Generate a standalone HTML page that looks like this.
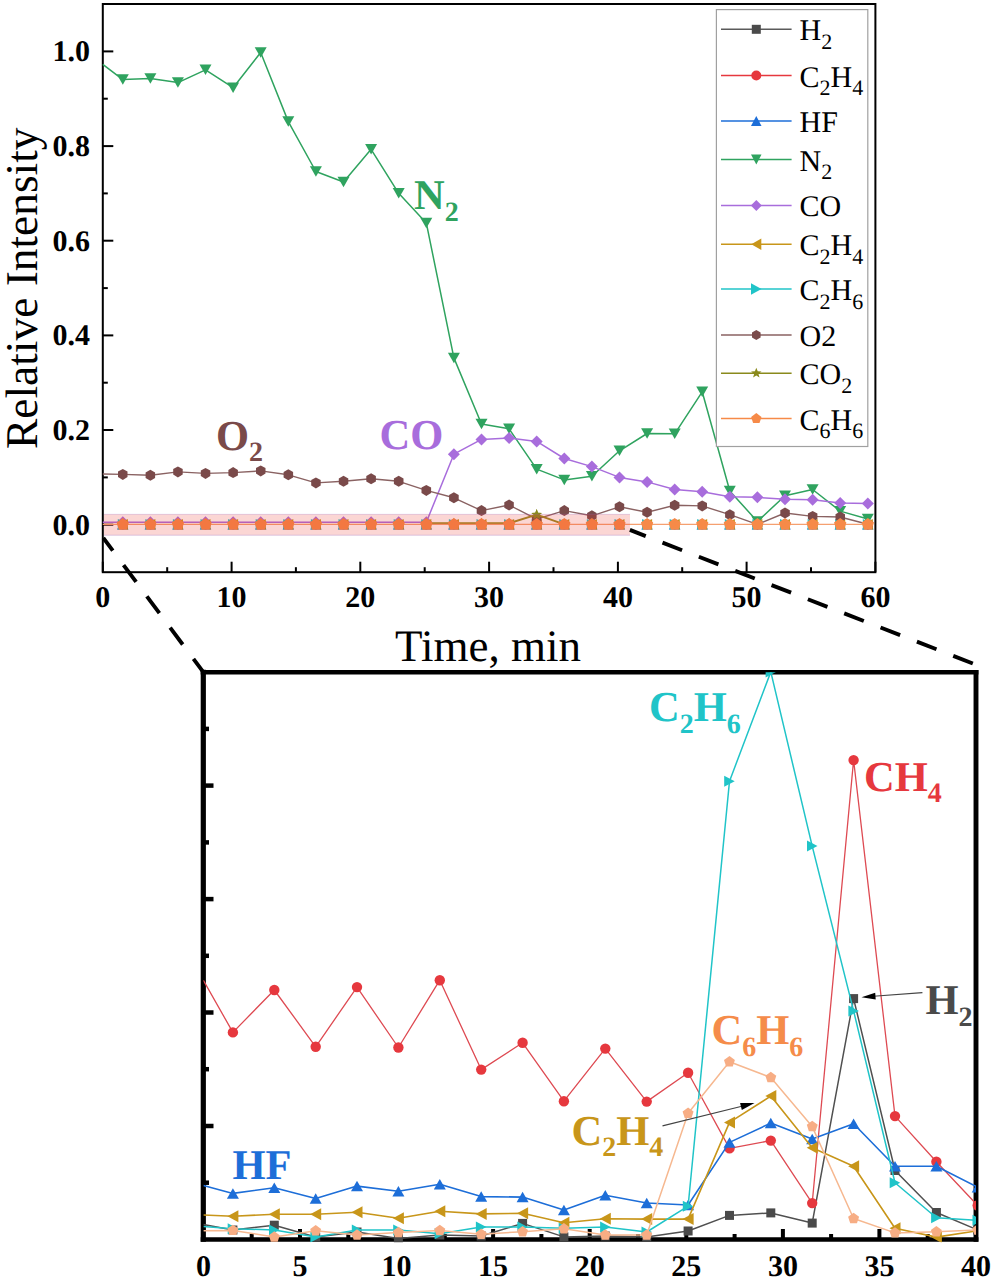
<!DOCTYPE html>
<html><head><meta charset="utf-8"><style>
html,body{margin:0;padding:0;background:#fff;}
body{width:998px;height:1282px;position:relative;overflow:hidden;font-family:"Liberation Serif",serif;}
</style></head><body>
<svg width="998" height="1282" viewBox="0 0 998 1282" style="position:absolute;left:0;top:0" text-rendering="geometricPrecision">
<rect width="998" height="1282" fill="#ffffff"/>
<rect x="102.8" y="4" width="772.6" height="568.2" fill="none" stroke="#000" stroke-width="2"/>
<line x1="102.8" y1="524.7" x2="113.3" y2="524.7" stroke="#000" stroke-width="2"/>
<line x1="102.8" y1="477.4" x2="107.8" y2="477.4" stroke="#000" stroke-width="2"/>
<line x1="102.8" y1="430" x2="113.3" y2="430" stroke="#000" stroke-width="2"/>
<line x1="102.8" y1="382.7" x2="107.8" y2="382.7" stroke="#000" stroke-width="2"/>
<line x1="102.8" y1="335.4" x2="113.3" y2="335.4" stroke="#000" stroke-width="2"/>
<line x1="102.8" y1="288.1" x2="107.8" y2="288.1" stroke="#000" stroke-width="2"/>
<line x1="102.8" y1="240.7" x2="113.3" y2="240.7" stroke="#000" stroke-width="2"/>
<line x1="102.8" y1="193.4" x2="107.8" y2="193.4" stroke="#000" stroke-width="2"/>
<line x1="102.8" y1="146.1" x2="113.3" y2="146.1" stroke="#000" stroke-width="2"/>
<line x1="102.8" y1="98.7" x2="107.8" y2="98.7" stroke="#000" stroke-width="2"/>
<line x1="102.8" y1="51.4" x2="113.3" y2="51.4" stroke="#000" stroke-width="2"/>
<line x1="102.8" y1="572.2" x2="102.8" y2="561.7" stroke="#000" stroke-width="2"/>
<line x1="167.2" y1="572.2" x2="167.2" y2="567.2" stroke="#000" stroke-width="2"/>
<line x1="231.6" y1="572.2" x2="231.6" y2="561.7" stroke="#000" stroke-width="2"/>
<line x1="295.9" y1="572.2" x2="295.9" y2="567.2" stroke="#000" stroke-width="2"/>
<line x1="360.3" y1="572.2" x2="360.3" y2="561.7" stroke="#000" stroke-width="2"/>
<line x1="424.7" y1="572.2" x2="424.7" y2="567.2" stroke="#000" stroke-width="2"/>
<line x1="489.1" y1="572.2" x2="489.1" y2="561.7" stroke="#000" stroke-width="2"/>
<line x1="553.5" y1="572.2" x2="553.5" y2="567.2" stroke="#000" stroke-width="2"/>
<line x1="617.9" y1="572.2" x2="617.9" y2="561.7" stroke="#000" stroke-width="2"/>
<line x1="682.2" y1="572.2" x2="682.2" y2="567.2" stroke="#000" stroke-width="2"/>
<line x1="746.6" y1="572.2" x2="746.6" y2="561.7" stroke="#000" stroke-width="2"/>
<line x1="811" y1="572.2" x2="811" y2="567.2" stroke="#000" stroke-width="2"/>
<line x1="875.4" y1="572.2" x2="875.4" y2="561.7" stroke="#000" stroke-width="2"/>
<g font-family="Liberation Serif" font-weight="bold" font-size="30" text-anchor="end" fill="#000">
<text x="90" y="534.5">0.0</text>
<text x="90" y="439.8">0.2</text>
<text x="90" y="345.2">0.4</text>
<text x="90" y="250.5">0.6</text>
<text x="90" y="155.9">0.8</text>
<text x="90" y="61.2">1.0</text>
</g>
<g font-family="Liberation Serif" font-weight="bold" font-size="30" text-anchor="middle" fill="#000">
<text x="102.8" y="607">0</text>
<text x="231.6" y="607">10</text>
<text x="360.3" y="607">20</text>
<text x="489.1" y="607">30</text>
<text x="617.9" y="607">40</text>
<text x="746.6" y="607">50</text>
<text x="875.4" y="607">60</text>
</g>
<text x="37.5" y="288.2" transform="rotate(-90 37.5 288.2)" font-family="Liberation Serif" font-size="45.4" text-anchor="middle" fill="#000">Relative Intensity</text>
<text x="488" y="661" font-family="Liberation Serif" font-size="45" text-anchor="middle" fill="#000">Time, min</text>
<rect x="118.3" y="519.9" width="9" height="9" fill="#4a4a4a"/>
<rect x="145.9" y="519.9" width="9" height="9" fill="#4a4a4a"/>
<rect x="173.4" y="519.9" width="9" height="9" fill="#4a4a4a"/>
<rect x="201" y="519.9" width="9" height="9" fill="#4a4a4a"/>
<rect x="228.6" y="519.9" width="9" height="9" fill="#4a4a4a"/>
<rect x="256.2" y="519.9" width="9" height="9" fill="#4a4a4a"/>
<rect x="283.8" y="519.9" width="9" height="9" fill="#4a4a4a"/>
<rect x="311.4" y="519.9" width="9" height="9" fill="#4a4a4a"/>
<rect x="339" y="519.9" width="9" height="9" fill="#4a4a4a"/>
<rect x="366.6" y="519.9" width="9" height="9" fill="#4a4a4a"/>
<rect x="394.2" y="519.9" width="9" height="9" fill="#4a4a4a"/>
<rect x="421.8" y="519.9" width="9" height="9" fill="#4a4a4a"/>
<rect x="449.4" y="519.9" width="9" height="9" fill="#4a4a4a"/>
<rect x="477" y="519.9" width="9" height="9" fill="#4a4a4a"/>
<rect x="504.6" y="519.9" width="9" height="9" fill="#4a4a4a"/>
<rect x="532.2" y="519.9" width="9" height="9" fill="#4a4a4a"/>
<rect x="559.8" y="519.9" width="9" height="9" fill="#4a4a4a"/>
<rect x="587.4" y="519.9" width="9" height="9" fill="#4a4a4a"/>
<rect x="615" y="519.9" width="9" height="9" fill="#4a4a4a"/>
<rect x="642.6" y="519.9" width="9" height="9" fill="#4a4a4a"/>
<rect x="670.2" y="519.9" width="9" height="9" fill="#4a4a4a"/>
<rect x="697.7" y="519.9" width="9" height="9" fill="#4a4a4a"/>
<rect x="725.3" y="519.9" width="9" height="9" fill="#4a4a4a"/>
<rect x="752.9" y="519.9" width="9" height="9" fill="#4a4a4a"/>
<rect x="780.5" y="519.9" width="9" height="9" fill="#4a4a4a"/>
<rect x="808.1" y="519.9" width="9" height="9" fill="#4a4a4a"/>
<rect x="835.7" y="519.9" width="9" height="9" fill="#4a4a4a"/>
<rect x="863.3" y="519.9" width="9" height="9" fill="#4a4a4a"/>
<circle cx="122.8" cy="524.4" r="5" fill="#e6383e"/>
<circle cx="150.4" cy="524.4" r="5" fill="#e6383e"/>
<circle cx="177.9" cy="524.4" r="5" fill="#e6383e"/>
<circle cx="205.5" cy="524.4" r="5" fill="#e6383e"/>
<circle cx="233.1" cy="524.4" r="5" fill="#e6383e"/>
<circle cx="260.7" cy="524.4" r="5" fill="#e6383e"/>
<circle cx="288.3" cy="524.4" r="5" fill="#e6383e"/>
<circle cx="315.9" cy="524.4" r="5" fill="#e6383e"/>
<circle cx="343.5" cy="524.4" r="5" fill="#e6383e"/>
<circle cx="371.1" cy="524.4" r="5" fill="#e6383e"/>
<circle cx="398.7" cy="524.4" r="5" fill="#e6383e"/>
<circle cx="426.3" cy="524.4" r="5" fill="#e6383e"/>
<circle cx="453.9" cy="524.4" r="5" fill="#e6383e"/>
<circle cx="481.5" cy="524.4" r="5" fill="#e6383e"/>
<circle cx="509.1" cy="524.4" r="5" fill="#e6383e"/>
<circle cx="536.7" cy="524.4" r="5" fill="#e6383e"/>
<circle cx="564.3" cy="524.4" r="5" fill="#e6383e"/>
<circle cx="591.9" cy="524.4" r="5" fill="#e6383e"/>
<circle cx="619.5" cy="524.4" r="5" fill="#e6383e"/>
<circle cx="647.1" cy="524.4" r="5" fill="#e6383e"/>
<circle cx="674.7" cy="524.4" r="5" fill="#e6383e"/>
<circle cx="702.2" cy="524.4" r="5" fill="#e6383e"/>
<circle cx="729.8" cy="524.4" r="5" fill="#e6383e"/>
<circle cx="757.4" cy="524.4" r="5" fill="#e6383e"/>
<circle cx="785" cy="524.4" r="5" fill="#e6383e"/>
<circle cx="812.6" cy="524.4" r="5" fill="#e6383e"/>
<circle cx="840.2" cy="524.4" r="5" fill="#e6383e"/>
<circle cx="867.8" cy="524.4" r="5" fill="#e6383e"/>
<polygon points="122.8,519.4 128.5,529.4 117,529.4" fill="#1d6ed8"/>
<polygon points="150.4,519.4 156.1,529.4 144.6,529.4" fill="#1d6ed8"/>
<polygon points="177.9,519.4 183.7,529.4 172.2,529.4" fill="#1d6ed8"/>
<polygon points="205.5,519.4 211.3,529.4 199.8,529.4" fill="#1d6ed8"/>
<polygon points="233.1,519.4 238.9,529.4 227.4,529.4" fill="#1d6ed8"/>
<polygon points="260.7,519.4 266.5,529.4 255,529.4" fill="#1d6ed8"/>
<polygon points="288.3,519.4 294.1,529.4 282.6,529.4" fill="#1d6ed8"/>
<polygon points="315.9,519.4 321.7,529.4 310.2,529.4" fill="#1d6ed8"/>
<polygon points="343.5,519.4 349.3,529.4 337.8,529.4" fill="#1d6ed8"/>
<polygon points="371.1,519.4 376.9,529.4 365.4,529.4" fill="#1d6ed8"/>
<polygon points="398.7,519.4 404.5,529.4 393,529.4" fill="#1d6ed8"/>
<polygon points="426.3,519.4 432.1,529.4 420.6,529.4" fill="#1d6ed8"/>
<polygon points="453.9,519.4 459.6,529.4 448.1,529.4" fill="#1d6ed8"/>
<polygon points="481.5,519.4 487.2,529.4 475.7,529.4" fill="#1d6ed8"/>
<polygon points="509.1,519.4 514.8,529.4 503.3,529.4" fill="#1d6ed8"/>
<polygon points="536.7,519.4 542.4,529.4 530.9,529.4" fill="#1d6ed8"/>
<polygon points="564.3,519.4 570,529.4 558.5,529.4" fill="#1d6ed8"/>
<polygon points="591.9,519.4 597.6,529.4 586.1,529.4" fill="#1d6ed8"/>
<polygon points="619.5,519.4 625.2,529.4 613.7,529.4" fill="#1d6ed8"/>
<polygon points="647.1,519.4 652.8,529.4 641.3,529.4" fill="#1d6ed8"/>
<polygon points="674.7,519.4 680.4,529.4 668.9,529.4" fill="#1d6ed8"/>
<polygon points="702.2,519.4 708,529.4 696.5,529.4" fill="#1d6ed8"/>
<polygon points="729.8,519.4 735.6,529.4 724.1,529.4" fill="#1d6ed8"/>
<polygon points="757.4,519.4 763.2,529.4 751.7,529.4" fill="#1d6ed8"/>
<polygon points="785,519.4 790.8,529.4 779.3,529.4" fill="#1d6ed8"/>
<polygon points="812.6,519.4 818.4,529.4 806.9,529.4" fill="#1d6ed8"/>
<polygon points="840.2,519.4 846,529.4 834.5,529.4" fill="#1d6ed8"/>
<polygon points="867.8,519.4 873.6,529.4 862.1,529.4" fill="#1d6ed8"/>
<polyline points="102.8,64.3 122.8,79.6 150.4,78.6 177.9,82.6 205.5,69.9 233.1,87.7 260.7,52.5 288.3,121.6 315.9,171.5 343.5,182 371.1,149.3 398.7,193.3 426.3,222.9 453.9,357.9 481.5,424 509.1,428.8 536.7,469.1 564.3,479.9 591.9,476.3 619.5,450.8 647.1,433.5 674.7,433.8 702.2,391.8 729.8,491 757.4,521.5 785,495.7 812.6,489.5 840.2,511.1 867.8,519" fill="none" stroke="#2fa35f" stroke-width="1.5" stroke-linejoin="round"/>
<polygon points="122.8,84.8 128.8,74.3 116.8,74.3" fill="#2fa35f"/>
<polygon points="150.4,83.8 156.4,73.3 144.4,73.3" fill="#2fa35f"/>
<polygon points="177.9,87.8 183.9,77.3 171.9,77.3" fill="#2fa35f"/>
<polygon points="205.5,75.1 211.5,64.6 199.5,64.6" fill="#2fa35f"/>
<polygon points="233.1,93 239.1,82.5 227.1,82.5" fill="#2fa35f"/>
<polygon points="260.7,57.8 266.7,47.2 254.7,47.2" fill="#2fa35f"/>
<polygon points="288.3,126.8 294.3,116.3 282.3,116.3" fill="#2fa35f"/>
<polygon points="315.9,176.8 321.9,166.2 309.9,166.2" fill="#2fa35f"/>
<polygon points="343.5,187.2 349.5,176.8 337.5,176.8" fill="#2fa35f"/>
<polygon points="371.1,154.6 377.1,144.1 365.1,144.1" fill="#2fa35f"/>
<polygon points="398.7,198.6 404.7,188.1 392.7,188.1" fill="#2fa35f"/>
<polygon points="426.3,228.2 432.3,217.7 420.3,217.7" fill="#2fa35f"/>
<polygon points="453.9,363.2 459.9,352.7 447.9,352.7" fill="#2fa35f"/>
<polygon points="481.5,429.2 487.5,418.8 475.5,418.8" fill="#2fa35f"/>
<polygon points="509.1,434.1 515.1,423.6 503.1,423.6" fill="#2fa35f"/>
<polygon points="536.7,474.4 542.7,463.9 530.7,463.9" fill="#2fa35f"/>
<polygon points="564.3,485.2 570.3,474.7 558.3,474.7" fill="#2fa35f"/>
<polygon points="591.9,481.6 597.9,471.1 585.9,471.1" fill="#2fa35f"/>
<polygon points="619.5,456.1 625.5,445.6 613.5,445.6" fill="#2fa35f"/>
<polygon points="647.1,438.8 653.1,428.2 641.1,428.2" fill="#2fa35f"/>
<polygon points="674.7,439.1 680.7,428.6 668.7,428.6" fill="#2fa35f"/>
<polygon points="702.2,397.1 708.2,386.6 696.2,386.6" fill="#2fa35f"/>
<polygon points="729.8,496.2 735.8,485.8 723.8,485.8" fill="#2fa35f"/>
<polygon points="757.4,526.8 763.4,516.2 751.4,516.2" fill="#2fa35f"/>
<polygon points="785,500.9 791,490.4 779,490.4" fill="#2fa35f"/>
<polygon points="812.6,494.8 818.6,484.2 806.6,484.2" fill="#2fa35f"/>
<polygon points="840.2,516.4 846.2,505.9 834.2,505.9" fill="#2fa35f"/>
<polygon points="867.8,524.2 873.8,513.8 861.8,513.8" fill="#2fa35f"/>
<polyline points="102.8,522.3 122.8,522.3 150.4,522.3 177.9,522.3 205.5,522.3 233.1,522.3 260.7,522.3 288.3,522.3 315.9,522.3 343.5,522.3 371.1,522.3 398.7,522.3 426.3,522.3 453.9,454.2 481.5,439.4 509.1,438 536.7,441.4 564.3,458.5 591.9,466.6 619.5,477.4 647.1,481.9 674.7,489.5 702.2,491.7 729.8,496.7 757.4,497.3 785,499.3 812.6,499.8 840.2,503.1 867.8,503.4" fill="none" stroke="#a86ddc" stroke-width="1.5" stroke-linejoin="round"/>
<polygon points="122.8,516.3 128.8,522.3 122.8,528.3 116.8,522.3" fill="#a86ddc"/>
<polygon points="150.4,516.3 156.4,522.3 150.4,528.3 144.4,522.3" fill="#a86ddc"/>
<polygon points="177.9,516.3 183.9,522.3 177.9,528.3 171.9,522.3" fill="#a86ddc"/>
<polygon points="205.5,516.3 211.5,522.3 205.5,528.3 199.5,522.3" fill="#a86ddc"/>
<polygon points="233.1,516.3 239.1,522.3 233.1,528.3 227.1,522.3" fill="#a86ddc"/>
<polygon points="260.7,516.3 266.7,522.3 260.7,528.3 254.7,522.3" fill="#a86ddc"/>
<polygon points="288.3,516.3 294.3,522.3 288.3,528.3 282.3,522.3" fill="#a86ddc"/>
<polygon points="315.9,516.3 321.9,522.3 315.9,528.3 309.9,522.3" fill="#a86ddc"/>
<polygon points="343.5,516.3 349.5,522.3 343.5,528.3 337.5,522.3" fill="#a86ddc"/>
<polygon points="371.1,516.3 377.1,522.3 371.1,528.3 365.1,522.3" fill="#a86ddc"/>
<polygon points="398.7,516.3 404.7,522.3 398.7,528.3 392.7,522.3" fill="#a86ddc"/>
<polygon points="426.3,516.3 432.3,522.3 426.3,528.3 420.3,522.3" fill="#a86ddc"/>
<polygon points="453.9,448.2 459.9,454.2 453.9,460.2 447.9,454.2" fill="#a86ddc"/>
<polygon points="481.5,433.4 487.5,439.4 481.5,445.4 475.5,439.4" fill="#a86ddc"/>
<polygon points="509.1,432 515.1,438 509.1,444 503.1,438" fill="#a86ddc"/>
<polygon points="536.7,435.4 542.7,441.4 536.7,447.4 530.7,441.4" fill="#a86ddc"/>
<polygon points="564.3,452.5 570.3,458.5 564.3,464.5 558.3,458.5" fill="#a86ddc"/>
<polygon points="591.9,460.6 597.9,466.6 591.9,472.6 585.9,466.6" fill="#a86ddc"/>
<polygon points="619.5,471.4 625.5,477.4 619.5,483.4 613.5,477.4" fill="#a86ddc"/>
<polygon points="647.1,475.9 653.1,481.9 647.1,487.9 641.1,481.9" fill="#a86ddc"/>
<polygon points="674.7,483.5 680.7,489.5 674.7,495.5 668.7,489.5" fill="#a86ddc"/>
<polygon points="702.2,485.7 708.2,491.7 702.2,497.7 696.2,491.7" fill="#a86ddc"/>
<polygon points="729.8,490.7 735.8,496.7 729.8,502.7 723.8,496.7" fill="#a86ddc"/>
<polygon points="757.4,491.3 763.4,497.3 757.4,503.3 751.4,497.3" fill="#a86ddc"/>
<polygon points="785,493.3 791,499.3 785,505.3 779,499.3" fill="#a86ddc"/>
<polygon points="812.6,493.8 818.6,499.8 812.6,505.8 806.6,499.8" fill="#a86ddc"/>
<polygon points="840.2,497.1 846.2,503.1 840.2,509.1 834.2,503.1" fill="#a86ddc"/>
<polygon points="867.8,497.4 873.8,503.4 867.8,509.4 861.8,503.4" fill="#a86ddc"/>
<polygon points="117.8,524.4 127.8,518.9 127.8,529.9" fill="#c8961a"/>
<polygon points="145.4,524.4 155.4,518.9 155.4,529.9" fill="#c8961a"/>
<polygon points="172.9,524.4 182.9,518.9 182.9,529.9" fill="#c8961a"/>
<polygon points="200.5,524.4 210.5,518.9 210.5,529.9" fill="#c8961a"/>
<polygon points="228.1,524.4 238.1,518.9 238.1,529.9" fill="#c8961a"/>
<polygon points="255.7,524.4 265.7,518.9 265.7,529.9" fill="#c8961a"/>
<polygon points="283.3,524.4 293.3,518.9 293.3,529.9" fill="#c8961a"/>
<polygon points="310.9,524.4 320.9,518.9 320.9,529.9" fill="#c8961a"/>
<polygon points="338.5,524.4 348.5,518.9 348.5,529.9" fill="#c8961a"/>
<polygon points="366.1,524.4 376.1,518.9 376.1,529.9" fill="#c8961a"/>
<polygon points="393.7,524.4 403.7,518.9 403.7,529.9" fill="#c8961a"/>
<polygon points="421.3,524.4 431.3,518.9 431.3,529.9" fill="#c8961a"/>
<polygon points="448.9,524.4 458.9,518.9 458.9,529.9" fill="#c8961a"/>
<polygon points="476.5,524.4 486.5,518.9 486.5,529.9" fill="#c8961a"/>
<polygon points="504.1,524.4 514.1,518.9 514.1,529.9" fill="#c8961a"/>
<polygon points="531.7,524.4 541.7,518.9 541.7,529.9" fill="#c8961a"/>
<polygon points="559.3,524.4 569.3,518.9 569.3,529.9" fill="#c8961a"/>
<polygon points="586.9,524.4 596.9,518.9 596.9,529.9" fill="#c8961a"/>
<polygon points="614.5,524.4 624.5,518.9 624.5,529.9" fill="#c8961a"/>
<polygon points="642.1,524.4 652.1,518.9 652.1,529.9" fill="#c8961a"/>
<polygon points="669.7,524.4 679.7,518.9 679.7,529.9" fill="#c8961a"/>
<polygon points="697.2,524.4 707.2,518.9 707.2,529.9" fill="#c8961a"/>
<polygon points="724.8,524.4 734.8,518.9 734.8,529.9" fill="#c8961a"/>
<polygon points="752.4,524.4 762.4,518.9 762.4,529.9" fill="#c8961a"/>
<polygon points="780,524.4 790,518.9 790,529.9" fill="#c8961a"/>
<polygon points="807.6,524.4 817.6,518.9 817.6,529.9" fill="#c8961a"/>
<polygon points="835.2,524.4 845.2,518.9 845.2,529.9" fill="#c8961a"/>
<polygon points="862.8,524.4 872.8,518.9 872.8,529.9" fill="#c8961a"/>
<polygon points="127.8,524.4 117.8,518.9 117.8,529.9" fill="#20c4c8"/>
<polygon points="155.4,524.4 145.4,518.9 145.4,529.9" fill="#20c4c8"/>
<polygon points="182.9,524.4 172.9,518.9 172.9,529.9" fill="#20c4c8"/>
<polygon points="210.5,524.4 200.5,518.9 200.5,529.9" fill="#20c4c8"/>
<polygon points="238.1,524.4 228.1,518.9 228.1,529.9" fill="#20c4c8"/>
<polygon points="265.7,524.4 255.7,518.9 255.7,529.9" fill="#20c4c8"/>
<polygon points="293.3,524.4 283.3,518.9 283.3,529.9" fill="#20c4c8"/>
<polygon points="320.9,524.4 310.9,518.9 310.9,529.9" fill="#20c4c8"/>
<polygon points="348.5,524.4 338.5,518.9 338.5,529.9" fill="#20c4c8"/>
<polygon points="376.1,524.4 366.1,518.9 366.1,529.9" fill="#20c4c8"/>
<polygon points="403.7,524.4 393.7,518.9 393.7,529.9" fill="#20c4c8"/>
<polygon points="431.3,524.4 421.3,518.9 421.3,529.9" fill="#20c4c8"/>
<polygon points="458.9,524.4 448.9,518.9 448.9,529.9" fill="#20c4c8"/>
<polygon points="486.5,524.4 476.5,518.9 476.5,529.9" fill="#20c4c8"/>
<polygon points="514.1,524.4 504.1,518.9 504.1,529.9" fill="#20c4c8"/>
<polygon points="541.7,524.4 531.7,518.9 531.7,529.9" fill="#20c4c8"/>
<polygon points="569.3,524.4 559.3,518.9 559.3,529.9" fill="#20c4c8"/>
<polygon points="596.9,524.4 586.9,518.9 586.9,529.9" fill="#20c4c8"/>
<polygon points="624.5,524.4 614.5,518.9 614.5,529.9" fill="#20c4c8"/>
<polygon points="652.1,524.4 642.1,518.9 642.1,529.9" fill="#20c4c8"/>
<polygon points="679.7,524.4 669.7,518.9 669.7,529.9" fill="#20c4c8"/>
<polygon points="707.2,524.4 697.2,518.9 697.2,529.9" fill="#20c4c8"/>
<polygon points="734.8,524.4 724.8,518.9 724.8,529.9" fill="#20c4c8"/>
<polygon points="762.4,524.4 752.4,518.9 752.4,529.9" fill="#20c4c8"/>
<polygon points="790,524.4 780,518.9 780,529.9" fill="#20c4c8"/>
<polygon points="817.6,524.4 807.6,518.9 807.6,529.9" fill="#20c4c8"/>
<polygon points="845.2,524.4 835.2,518.9 835.2,529.9" fill="#20c4c8"/>
<polygon points="872.8,524.4 862.8,518.9 862.8,529.9" fill="#20c4c8"/>
<polyline points="102.8,474 122.8,474.4 150.4,475.2 177.9,471.9 205.5,473.4 233.1,472.6 260.7,470.9 288.3,474.8 315.9,482.9 343.5,481.3 371.1,478.7 398.7,481.3 426.3,490.4 453.9,497.8 481.5,510.6 509.1,505 536.7,519.2 564.3,510.6 591.9,515.8 619.5,506.8 647.1,512.3 674.7,505.3 702.2,505.9 729.8,514.7 757.4,524.3 785,513 812.6,516.4 840.2,517 867.8,524.2" fill="none" stroke="#8a6262" stroke-width="1.4" stroke-linejoin="round"/>
<polygon points="122.8,468.9 118,471.6 118,477.1 122.8,479.9 127.5,477.1 127.5,471.6" fill="#7a4a4a"/>
<polygon points="150.4,469.7 145.6,472.4 145.6,477.9 150.4,480.7 155.1,477.9 155.1,472.4" fill="#7a4a4a"/>
<polygon points="177.9,466.4 173.2,469.1 173.2,474.6 177.9,477.4 182.7,474.6 182.7,469.1" fill="#7a4a4a"/>
<polygon points="205.5,467.9 200.8,470.6 200.8,476.1 205.5,478.9 210.3,476.1 210.3,470.6" fill="#7a4a4a"/>
<polygon points="233.1,467.1 228.4,469.9 228.4,475.4 233.1,478.1 237.9,475.4 237.9,469.9" fill="#7a4a4a"/>
<polygon points="260.7,465.4 256,468.1 256,473.6 260.7,476.4 265.5,473.6 265.5,468.1" fill="#7a4a4a"/>
<polygon points="288.3,469.3 283.6,472.1 283.6,477.6 288.3,480.3 293.1,477.6 293.1,472.1" fill="#7a4a4a"/>
<polygon points="315.9,477.4 311.2,480.1 311.2,485.6 315.9,488.4 320.7,485.6 320.7,480.1" fill="#7a4a4a"/>
<polygon points="343.5,475.8 338.8,478.6 338.8,484.1 343.5,486.8 348.3,484.1 348.3,478.6" fill="#7a4a4a"/>
<polygon points="371.1,473.2 366.3,475.9 366.3,481.4 371.1,484.2 375.9,481.4 375.9,475.9" fill="#7a4a4a"/>
<polygon points="398.7,475.8 393.9,478.6 393.9,484.1 398.7,486.8 403.5,484.1 403.5,478.6" fill="#7a4a4a"/>
<polygon points="426.3,484.9 421.5,487.6 421.5,493.1 426.3,495.9 431.1,493.1 431.1,487.6" fill="#7a4a4a"/>
<polygon points="453.9,492.3 449.1,495.1 449.1,500.6 453.9,503.3 458.7,500.6 458.7,495.1" fill="#7a4a4a"/>
<polygon points="481.5,505.1 476.7,507.9 476.7,513.4 481.5,516.1 486.3,513.4 486.3,507.9" fill="#7a4a4a"/>
<polygon points="509.1,499.5 504.3,502.2 504.3,507.8 509.1,510.5 513.8,507.8 513.8,502.2" fill="#7a4a4a"/>
<polygon points="536.7,513.7 531.9,516.5 531.9,522 536.7,524.7 541.4,522 541.4,516.5" fill="#7a4a4a"/>
<polygon points="564.3,505.1 559.5,507.9 559.5,513.4 564.3,516.1 569,513.4 569,507.9" fill="#7a4a4a"/>
<polygon points="591.9,510.3 587.1,513 587.1,518.5 591.9,521.3 596.6,518.5 596.6,513" fill="#7a4a4a"/>
<polygon points="619.5,501.3 614.7,504.1 614.7,509.6 619.5,512.3 624.2,509.6 624.2,504.1" fill="#7a4a4a"/>
<polygon points="647.1,506.8 642.3,509.5 642.3,515 647.1,517.8 651.8,515 651.8,509.5" fill="#7a4a4a"/>
<polygon points="674.7,499.8 669.9,502.6 669.9,508.1 674.7,510.8 679.4,508.1 679.4,502.6" fill="#7a4a4a"/>
<polygon points="702.2,500.4 697.5,503.1 697.5,508.6 702.2,511.4 707,508.6 707,503.1" fill="#7a4a4a"/>
<polygon points="729.8,509.2 725.1,512 725.1,517.5 729.8,520.2 734.6,517.5 734.6,512" fill="#7a4a4a"/>
<polygon points="757.4,518.8 752.7,521.5 752.7,527 757.4,529.8 762.2,527 762.2,521.5" fill="#7a4a4a"/>
<polygon points="785,507.5 780.3,510.2 780.3,515.8 785,518.5 789.8,515.8 789.8,510.2" fill="#7a4a4a"/>
<polygon points="812.6,510.9 807.9,513.6 807.9,519.1 812.6,521.9 817.4,519.1 817.4,513.6" fill="#7a4a4a"/>
<polygon points="840.2,511.5 835.5,514.2 835.5,519.8 840.2,522.5 845,519.8 845,514.2" fill="#7a4a4a"/>
<polygon points="867.8,518.7 863.1,521.5 863.1,527 867.8,529.7 872.6,527 872.6,521.5" fill="#7a4a4a"/>
<polygon points="122.8,518.9 121.4,522.5 117.5,522.7 120.6,525.1 119.5,528.8 122.8,526.7 126,528.8 125,525.1 128,522.7 124.1,522.5" fill="#8a8a1c"/>
<polygon points="150.4,518.9 149,522.5 145.1,522.7 148.2,525.1 147.1,528.8 150.4,526.7 153.6,528.8 152.6,525.1 155.6,522.7 151.7,522.5" fill="#8a8a1c"/>
<polygon points="177.9,518.9 176.6,522.5 172.7,522.7 175.8,525.1 174.7,528.8 177.9,526.7 181.2,528.8 180.1,525.1 183.2,522.7 179.3,522.5" fill="#8a8a1c"/>
<polygon points="205.5,518.9 204.2,522.5 200.3,522.7 203.3,525.1 202.3,528.8 205.5,526.7 208.8,528.8 207.7,525.1 210.8,522.7 206.9,522.5" fill="#8a8a1c"/>
<polygon points="233.1,518.9 231.8,522.5 227.9,522.7 230.9,525.1 229.9,528.8 233.1,526.7 236.4,528.8 235.3,525.1 238.4,522.7 234.5,522.5" fill="#8a8a1c"/>
<polygon points="260.7,518.9 259.4,522.5 255.5,522.7 258.5,525.1 257.5,528.8 260.7,526.7 264,528.8 262.9,525.1 266,522.7 262.1,522.5" fill="#8a8a1c"/>
<polygon points="288.3,518.9 287,522.5 283.1,522.7 286.1,525.1 285.1,528.8 288.3,526.7 291.6,528.8 290.5,525.1 293.6,522.7 289.7,522.5" fill="#8a8a1c"/>
<polygon points="315.9,518.9 314.6,522.5 310.7,522.7 313.7,525.1 312.7,528.8 315.9,526.7 319.2,528.8 318.1,525.1 321.2,522.7 317.3,522.5" fill="#8a8a1c"/>
<polygon points="343.5,518.9 342.2,522.5 338.3,522.7 341.3,525.1 340.3,528.8 343.5,526.7 346.7,528.8 345.7,525.1 348.7,522.7 344.9,522.5" fill="#8a8a1c"/>
<polygon points="371.1,518.9 369.8,522.5 365.9,522.7 368.9,525.1 367.9,528.8 371.1,526.7 374.3,528.8 373.3,525.1 376.3,522.7 372.5,522.5" fill="#8a8a1c"/>
<polygon points="398.7,518.9 397.3,522.5 393.5,522.7 396.5,525.1 395.5,528.8 398.7,526.7 401.9,528.8 400.9,525.1 403.9,522.7 400.1,522.5" fill="#8a8a1c"/>
<polygon points="426.3,518.9 424.9,522.5 421.1,522.7 424.1,525.1 423.1,528.8 426.3,526.7 429.5,528.8 428.5,525.1 431.5,522.7 427.7,522.5" fill="#8a8a1c"/>
<polygon points="453.9,518.9 452.5,522.5 448.7,522.7 451.7,525.1 450.7,528.8 453.9,526.7 457.1,528.8 456.1,525.1 459.1,522.7 455.3,522.5" fill="#8a8a1c"/>
<polygon points="481.5,518.9 480.1,522.5 476.3,522.7 479.3,525.1 478.3,528.8 481.5,526.7 484.7,528.8 483.7,525.1 486.7,522.7 482.8,522.5" fill="#8a8a1c"/>
<polygon points="509.1,518.9 507.7,522.5 503.9,522.7 506.9,525.1 505.9,528.8 509.1,526.7 512.3,528.8 511.3,525.1 514.3,522.7 510.4,522.5" fill="#8a8a1c"/>
<polygon points="536.7,509.1 535.3,512.7 531.4,512.9 534.5,515.3 533.4,519 536.7,516.9 539.9,519 538.9,515.3 541.9,512.9 538,512.7" fill="#8a8a1c"/>
<polygon points="564.3,518.9 562.9,522.5 559,522.7 562.1,525.1 561,528.8 564.3,526.7 567.5,528.8 566.5,525.1 569.5,522.7 565.6,522.5" fill="#8a8a1c"/>
<polygon points="591.9,518.9 590.5,522.5 586.6,522.7 589.7,525.1 588.6,528.8 591.9,526.7 595.1,528.8 594.1,525.1 597.1,522.7 593.2,522.5" fill="#8a8a1c"/>
<polygon points="619.5,518.9 618.1,522.5 614.2,522.7 617.3,525.1 616.2,528.8 619.5,526.7 622.7,528.8 621.7,525.1 624.7,522.7 620.8,522.5" fill="#8a8a1c"/>
<polygon points="647.1,518.9 645.7,522.5 641.8,522.7 644.9,525.1 643.8,528.8 647.1,526.7 650.3,528.8 649.3,525.1 652.3,522.7 648.4,522.5" fill="#8a8a1c"/>
<polygon points="674.7,518.9 673.3,522.5 669.4,522.7 672.5,525.1 671.4,528.8 674.7,526.7 677.9,528.8 676.8,525.1 679.9,522.7 676,522.5" fill="#8a8a1c"/>
<polygon points="702.2,518.9 700.9,522.5 697,522.7 700.1,525.1 699,528.8 702.2,526.7 705.5,528.8 704.4,525.1 707.5,522.7 703.6,522.5" fill="#8a8a1c"/>
<polygon points="729.8,518.9 728.5,522.5 724.6,522.7 727.6,525.1 726.6,528.8 729.8,526.7 733.1,528.8 732,525.1 735.1,522.7 731.2,522.5" fill="#8a8a1c"/>
<polygon points="757.4,518.9 756.1,522.5 752.2,522.7 755.2,525.1 754.2,528.8 757.4,526.7 760.7,528.8 759.6,525.1 762.7,522.7 758.8,522.5" fill="#8a8a1c"/>
<polygon points="785,518.9 783.7,522.5 779.8,522.7 782.8,525.1 781.8,528.8 785,526.7 788.3,528.8 787.2,525.1 790.3,522.7 786.4,522.5" fill="#8a8a1c"/>
<polygon points="812.6,518.9 811.3,522.5 807.4,522.7 810.4,525.1 809.4,528.8 812.6,526.7 815.9,528.8 814.8,525.1 817.9,522.7 814,522.5" fill="#8a8a1c"/>
<polygon points="840.2,518.9 838.9,522.5 835,522.7 838,525.1 837,528.8 840.2,526.7 843.5,528.8 842.4,525.1 845.5,522.7 841.6,522.5" fill="#8a8a1c"/>
<polygon points="867.8,518.9 866.5,522.5 862.6,522.7 865.6,525.1 864.6,528.8 867.8,526.7 871,528.8 870,525.1 873,522.7 869.2,522.5" fill="#8a8a1c"/>
<polyline points="426.3,523.2 453.9,523.2 481.5,523.2 509.1,523.2 536.7,514.6 564.3,524.4" fill="none" stroke="#9a8a20" stroke-width="2" stroke-linejoin="round"/>
<polygon points="426.3,517.7 424.9,521.3 421.1,521.5 424.1,523.9 423.1,527.6 426.3,525.5 429.5,527.6 428.5,523.9 431.5,521.5 427.7,521.3" fill="#8a8a1c"/>
<polygon points="453.9,517.7 452.5,521.3 448.7,521.5 451.7,523.9 450.7,527.6 453.9,525.5 457.1,527.6 456.1,523.9 459.1,521.5 455.3,521.3" fill="#8a8a1c"/>
<polygon points="481.5,517.7 480.1,521.3 476.3,521.5 479.3,523.9 478.3,527.6 481.5,525.5 484.7,527.6 483.7,523.9 486.7,521.5 482.8,521.3" fill="#8a8a1c"/>
<polygon points="509.1,517.7 507.7,521.3 503.9,521.5 506.9,523.9 505.9,527.6 509.1,525.5 512.3,527.6 511.3,523.9 514.3,521.5 510.4,521.3" fill="#8a8a1c"/>
<polygon points="536.7,509.1 535.3,512.7 531.4,512.9 534.5,515.3 533.4,519 536.7,516.9 539.9,519 538.9,515.3 541.9,512.9 538,512.7" fill="#8a8a1c"/>
<polygon points="564.3,518.9 562.9,522.5 559,522.7 562.1,525.1 561,528.8 564.3,526.7 567.5,528.8 566.5,525.1 569.5,522.7 565.6,522.5" fill="#8a8a1c"/>
<polyline points="102.8,524.4 122.8,524.4 150.4,524.4 177.9,524.4 205.5,524.4 233.1,524.4 260.7,524.4 288.3,524.4 315.9,524.4 343.5,524.4 371.1,524.4 398.7,524.4 426.3,524.4 453.9,524.4 481.5,524.4 509.1,524.4 536.7,524.4 564.3,524.4 591.9,524.4 619.5,524.4 647.1,524.4 674.7,524.4 702.2,524.4 729.8,524.4 757.4,524.4 785,524.4 812.6,524.4 840.2,524.4 867.8,524.4" fill="none" stroke="#f5a070" stroke-width="1.4" stroke-linejoin="round"/>
<polygon points="122.8,517.9 116.6,522.4 118.9,529.7 126.6,529.7 128.9,522.4" fill="#f68a48"/>
<polygon points="150.4,517.9 144.2,522.4 146.5,529.7 154.2,529.7 156.5,522.4" fill="#f68a48"/>
<polygon points="177.9,517.9 171.8,522.4 174.1,529.7 181.8,529.7 184.1,522.4" fill="#f68a48"/>
<polygon points="205.5,517.9 199.4,522.4 201.7,529.7 209.4,529.7 211.7,522.4" fill="#f68a48"/>
<polygon points="233.1,517.9 227,522.4 229.3,529.7 237,529.7 239.3,522.4" fill="#f68a48"/>
<polygon points="260.7,517.9 254.6,522.4 256.9,529.7 264.6,529.7 266.9,522.4" fill="#f68a48"/>
<polygon points="288.3,517.9 282.1,522.4 284.5,529.7 292.1,529.7 294.5,522.4" fill="#f68a48"/>
<polygon points="315.9,517.9 309.7,522.4 312.1,529.7 319.7,529.7 322.1,522.4" fill="#f68a48"/>
<polygon points="343.5,517.9 337.3,522.4 339.7,529.7 347.3,529.7 349.7,522.4" fill="#f68a48"/>
<polygon points="371.1,517.9 364.9,522.4 367.3,529.7 374.9,529.7 377.3,522.4" fill="#f68a48"/>
<polygon points="398.7,517.9 392.5,522.4 394.9,529.7 402.5,529.7 404.9,522.4" fill="#f68a48"/>
<polygon points="426.3,517.9 420.1,522.4 422.5,529.7 430.1,529.7 432.5,522.4" fill="#f68a48"/>
<polygon points="453.9,517.9 447.7,522.4 450.1,529.7 457.7,529.7 460.1,522.4" fill="#f68a48"/>
<polygon points="481.5,517.9 475.3,522.4 477.7,529.7 485.3,529.7 487.7,522.4" fill="#f68a48"/>
<polygon points="509.1,517.9 502.9,522.4 505.3,529.7 512.9,529.7 515.3,522.4" fill="#f68a48"/>
<polygon points="536.7,517.9 530.5,522.4 532.9,529.7 540.5,529.7 542.9,522.4" fill="#f68a48"/>
<polygon points="564.3,517.9 558.1,522.4 560.5,529.7 568.1,529.7 570.5,522.4" fill="#f68a48"/>
<polygon points="591.9,517.9 585.7,522.4 588,529.7 595.7,529.7 598.1,522.4" fill="#f68a48"/>
<polygon points="619.5,517.9 613.3,522.4 615.6,529.7 623.3,529.7 625.6,522.4" fill="#f68a48"/>
<polygon points="647.1,517.9 640.9,522.4 643.2,529.7 650.9,529.7 653.2,522.4" fill="#f68a48"/>
<polygon points="674.7,517.9 668.5,522.4 670.8,529.7 678.5,529.7 680.8,522.4" fill="#f68a48"/>
<polygon points="702.2,517.9 696.1,522.4 698.4,529.7 706.1,529.7 708.4,522.4" fill="#f68a48"/>
<polygon points="729.8,517.9 723.7,522.4 726,529.7 733.7,529.7 736,522.4" fill="#f68a48"/>
<polygon points="757.4,517.9 751.3,522.4 753.6,529.7 761.3,529.7 763.6,522.4" fill="#f68a48"/>
<polygon points="785,517.9 778.8,522.4 781.2,529.7 788.9,529.7 791.2,522.4" fill="#f68a48"/>
<polygon points="812.6,517.9 806.4,522.4 808.8,529.7 816.4,529.7 818.8,522.4" fill="#f68a48"/>
<polygon points="840.2,517.9 834,522.4 836.4,529.7 844,529.7 846.4,522.4" fill="#f68a48"/>
<polygon points="867.8,517.9 861.6,522.4 864,529.7 871.6,529.7 874,522.4" fill="#f68a48"/>
<rect x="104" y="514" width="526" height="21.5" fill="#eb3228" fill-opacity="0.2"/><line x1="104" y1="514.3" x2="630" y2="514.3" stroke="#8070e0" stroke-opacity="0.2" stroke-width="1"/><line x1="104" y1="535.2" x2="630" y2="535.2" stroke="#8070e0" stroke-opacity="0.25" stroke-width="1"/>
<rect x="716.4" y="9.6" width="151.4" height="436.9" fill="#fff" stroke="#a0a0a0" stroke-width="1.2"/>
<line x1="721" y1="29.3" x2="791.6" y2="29.3" stroke="#5a5a5a" stroke-width="1.5"/>
<rect x="751.8" y="24.8" width="9" height="9" fill="#4a4a4a"/>
<text x="799.5" y="40.3" font-family="Liberation Serif" font-size="30" fill="#000"><tspan>H</tspan><tspan font-size="22" dy="8.7">2</tspan></text>
<line x1="721" y1="75.5" x2="791.6" y2="75.5" stroke="#e6383e" stroke-width="1.5"/>
<circle cx="756.3" cy="75.5" r="5" fill="#e6383e"/>
<text x="799.5" y="86.5" font-family="Liberation Serif" font-size="30" fill="#000"><tspan>C</tspan><tspan font-size="22" dy="8.7">2</tspan><tspan dy="-8.7">H</tspan><tspan font-size="22" dy="8.7">4</tspan></text>
<line x1="721" y1="121.0" x2="791.6" y2="121.0" stroke="#1d6ed8" stroke-width="1.5"/>
<polygon points="756.3,116 761.5,126 751,126" fill="#1d6ed8"/>
<text x="799.5" y="132" font-family="Liberation Serif" font-size="30" fill="#000"><tspan>HF</tspan></text>
<line x1="721" y1="159.6" x2="791.6" y2="159.6" stroke="#2fa35f" stroke-width="1.5"/>
<polygon points="756.3,164.6 761.5,154.6 751,154.6" fill="#2fa35f"/>
<text x="799.5" y="170.6" font-family="Liberation Serif" font-size="30" fill="#000"><tspan>N</tspan><tspan font-size="22" dy="8.7">2</tspan></text>
<line x1="721" y1="205.4" x2="791.6" y2="205.4" stroke="#a86ddc" stroke-width="1.5"/>
<polygon points="756.3,199.9 761.8,205.4 756.3,210.9 750.8,205.4" fill="#a86ddc"/>
<text x="799.5" y="216.4" font-family="Liberation Serif" font-size="30" fill="#000"><tspan>CO</tspan></text>
<line x1="721" y1="244.2" x2="791.6" y2="244.2" stroke="#c8961a" stroke-width="1.5"/>
<polygon points="751.3,244.2 761.3,238.4 761.3,249.9" fill="#c8961a"/>
<text x="799.5" y="255.2" font-family="Liberation Serif" font-size="30" fill="#000"><tspan>C</tspan><tspan font-size="22" dy="8.7">2</tspan><tspan dy="-8.7">H</tspan><tspan font-size="22" dy="8.7">4</tspan></text>
<line x1="721" y1="289.0" x2="791.6" y2="289.0" stroke="#20c4c8" stroke-width="1.5"/>
<polygon points="761.5,289 751,283.2 751,294.8" fill="#20c4c8"/>
<text x="799.5" y="300" font-family="Liberation Serif" font-size="30" fill="#000"><tspan>C</tspan><tspan font-size="22" dy="8.7">2</tspan><tspan dy="-8.7">H</tspan><tspan font-size="22" dy="8.7">6</tspan></text>
<line x1="721" y1="335.0" x2="791.6" y2="335.0" stroke="#8a6262" stroke-width="1.5"/>
<polygon points="756.3,330 752,332.5 752,337.5 756.3,340 760.6,337.5 760.6,332.5" fill="#7a4a4a"/>
<text x="799.5" y="346" font-family="Liberation Serif" font-size="30" fill="#000"><tspan>O2</tspan></text>
<line x1="721" y1="373.2" x2="791.6" y2="373.2" stroke="#8a8a1c" stroke-width="1.5"/>
<polygon points="756.3,367.7 754.9,371.3 751.1,371.5 754.1,373.9 753.1,377.6 756.3,375.5 759.5,377.6 758.5,373.9 761.5,371.5 757.7,371.3" fill="#8a8a1c"/>
<text x="799.5" y="384.2" font-family="Liberation Serif" font-size="30" fill="#000"><tspan>CO</tspan><tspan font-size="22" dy="8.7">2</tspan></text>
<line x1="721" y1="418.6" x2="791.6" y2="418.6" stroke="#f68a48" stroke-width="1.5"/>
<polygon points="756.3,413.1 751.1,416.9 753.1,423 759.5,423 761.5,416.9" fill="#f68a48"/>
<text x="799.5" y="429.6" font-family="Liberation Serif" font-size="30" fill="#000"><tspan>C</tspan><tspan font-size="22" dy="8.7">6</tspan><tspan dy="-8.7">H</tspan><tspan font-size="22" dy="8.7">6</tspan></text>
<text x="414" y="209.2" font-family="Liberation Serif" font-weight="bold" font-size="42.5" fill="#2fa35f"><tspan>N</tspan><tspan font-size="28" dy="11.5">2</tspan></text>
<text x="216" y="449.5" font-family="Liberation Serif" font-weight="bold" font-size="42.5" fill="#7a4a4a"><tspan>O</tspan><tspan font-size="28" dy="11.5">2</tspan></text>
<text x="379.5" y="449" font-family="Liberation Serif" font-weight="bold" font-size="42.5" fill="#a86ddc"><tspan>CO</tspan></text>
<line x1="103.3" y1="537.9" x2="202.6" y2="671.2" stroke="#000" stroke-width="3.9" stroke-dasharray="21 18" stroke-dashoffset="5.1"/>
<line x1="629.9" y1="529.9" x2="975" y2="664.3" stroke="#000" stroke-width="3.9" stroke-dasharray="21 18" stroke-dashoffset="4"/>
<defs><clipPath id="bc"><rect x="203.4" y="672.2" width="772.6" height="570"/></clipPath></defs>
<line x1="203.3" y1="669.8" x2="203.3" y2="1241.8" stroke="#000" stroke-width="5.2"/>
<line x1="200.7" y1="672.2" x2="978.4" y2="672.2" stroke="#000" stroke-width="4.6"/>
<line x1="976" y1="669.9" x2="976" y2="1241.8" stroke="#000" stroke-width="4.9"/>
<line x1="200.7" y1="1239.5" x2="978.4" y2="1239.5" stroke="#000" stroke-width="4.7"/>
<line x1="203.4" y1="728.9" x2="209" y2="728.9" stroke="#000" stroke-width="4.5"/>
<line x1="203.4" y1="785.6" x2="213.5" y2="785.6" stroke="#000" stroke-width="4.5"/>
<line x1="203.4" y1="842.4" x2="209" y2="842.4" stroke="#000" stroke-width="4.5"/>
<line x1="203.4" y1="899.1" x2="213.5" y2="899.1" stroke="#000" stroke-width="4.5"/>
<line x1="203.4" y1="955.8" x2="209" y2="955.8" stroke="#000" stroke-width="4.5"/>
<line x1="203.4" y1="1012.5" x2="213.5" y2="1012.5" stroke="#000" stroke-width="4.5"/>
<line x1="203.4" y1="1069.2" x2="209" y2="1069.2" stroke="#000" stroke-width="4.5"/>
<line x1="203.4" y1="1126" x2="213.5" y2="1126" stroke="#000" stroke-width="4.5"/>
<line x1="203.4" y1="1182.7" x2="209" y2="1182.7" stroke="#000" stroke-width="4.5"/>
<line x1="251.7" y1="1239.4" x2="251.7" y2="1234" stroke="#000" stroke-width="4"/>
<line x1="300" y1="1239.4" x2="300" y2="1229" stroke="#000" stroke-width="4"/>
<line x1="348.3" y1="1239.4" x2="348.3" y2="1234" stroke="#000" stroke-width="4"/>
<line x1="396.6" y1="1239.4" x2="396.6" y2="1229" stroke="#000" stroke-width="4"/>
<line x1="444.8" y1="1239.4" x2="444.8" y2="1234" stroke="#000" stroke-width="4"/>
<line x1="493.1" y1="1239.4" x2="493.1" y2="1229" stroke="#000" stroke-width="4"/>
<line x1="541.4" y1="1239.4" x2="541.4" y2="1234" stroke="#000" stroke-width="4"/>
<line x1="589.7" y1="1239.4" x2="589.7" y2="1229" stroke="#000" stroke-width="4"/>
<line x1="638" y1="1239.4" x2="638" y2="1234" stroke="#000" stroke-width="4"/>
<line x1="686.3" y1="1239.4" x2="686.3" y2="1229" stroke="#000" stroke-width="4"/>
<line x1="734.6" y1="1239.4" x2="734.6" y2="1234" stroke="#000" stroke-width="4"/>
<line x1="782.9" y1="1239.4" x2="782.9" y2="1229" stroke="#000" stroke-width="4"/>
<line x1="831.1" y1="1239.4" x2="831.1" y2="1234" stroke="#000" stroke-width="4"/>
<line x1="879.4" y1="1239.4" x2="879.4" y2="1229" stroke="#000" stroke-width="4"/>
<line x1="927.7" y1="1239.4" x2="927.7" y2="1234" stroke="#000" stroke-width="4"/>
<g clip-path="url(#bc)">
<polyline points="203.4,1224.5 232.9,1230 274.3,1225.2 315.7,1237 357,1232 398.4,1238.5 439.8,1235 481.2,1236 522.6,1223.4 563.9,1236.9 605.3,1236 646.7,1237 688.1,1231 729.5,1215.4 770.8,1212.9 812.2,1223.1 853.6,998.6 895,1170.5 936.4,1212.5 977.7,1230" fill="none" stroke="#505050" stroke-width="1.5" stroke-linejoin="round"/>
<rect x="228.4" y="1225.5" width="9" height="9" fill="#4a4a4a"/>
<rect x="269.8" y="1220.7" width="9" height="9" fill="#4a4a4a"/>
<rect x="311.2" y="1232.5" width="9" height="9" fill="#4a4a4a"/>
<rect x="352.5" y="1227.5" width="9" height="9" fill="#4a4a4a"/>
<rect x="393.9" y="1234" width="9" height="9" fill="#4a4a4a"/>
<rect x="435.3" y="1230.5" width="9" height="9" fill="#4a4a4a"/>
<rect x="476.7" y="1231.5" width="9" height="9" fill="#4a4a4a"/>
<rect x="518.1" y="1218.9" width="9" height="9" fill="#4a4a4a"/>
<rect x="559.4" y="1232.4" width="9" height="9" fill="#4a4a4a"/>
<rect x="600.8" y="1231.5" width="9" height="9" fill="#4a4a4a"/>
<rect x="642.2" y="1232.5" width="9" height="9" fill="#4a4a4a"/>
<rect x="683.6" y="1226.5" width="9" height="9" fill="#4a4a4a"/>
<rect x="725" y="1210.9" width="9" height="9" fill="#4a4a4a"/>
<rect x="766.3" y="1208.4" width="9" height="9" fill="#4a4a4a"/>
<rect x="807.7" y="1218.6" width="9" height="9" fill="#4a4a4a"/>
<rect x="849.1" y="994.1" width="9" height="9" fill="#4a4a4a"/>
<rect x="890.5" y="1166" width="9" height="9" fill="#4a4a4a"/>
<rect x="931.9" y="1208" width="9" height="9" fill="#4a4a4a"/>
<rect x="973.2" y="1225.5" width="9" height="9" fill="#4a4a4a"/>
<polyline points="203.4,980.3 232.9,1032.4 274.3,990 315.7,1046.8 357,987.1 398.4,1047.5 439.8,980.2 481.2,1069.6 522.6,1042.8 563.9,1101.2 605.3,1048.6 646.7,1101.6 688.1,1072.7 729.5,1148.4 770.8,1140.6 812.2,1203.1 853.6,760.1 895,1116.1 936.4,1161.7 977.7,1205.5" fill="none" stroke="#de4a52" stroke-width="1.3" stroke-linejoin="round"/>
<circle cx="232.9" cy="1032.4" r="5.2" fill="#e6383e"/>
<circle cx="274.3" cy="990" r="5.2" fill="#e6383e"/>
<circle cx="315.7" cy="1046.8" r="5.2" fill="#e6383e"/>
<circle cx="357" cy="987.1" r="5.2" fill="#e6383e"/>
<circle cx="398.4" cy="1047.5" r="5.2" fill="#e6383e"/>
<circle cx="439.8" cy="980.2" r="5.2" fill="#e6383e"/>
<circle cx="481.2" cy="1069.6" r="5.2" fill="#e6383e"/>
<circle cx="522.6" cy="1042.8" r="5.2" fill="#e6383e"/>
<circle cx="563.9" cy="1101.2" r="5.2" fill="#e6383e"/>
<circle cx="605.3" cy="1048.6" r="5.2" fill="#e6383e"/>
<circle cx="646.7" cy="1101.6" r="5.2" fill="#e6383e"/>
<circle cx="688.1" cy="1072.7" r="5.2" fill="#e6383e"/>
<circle cx="729.5" cy="1148.4" r="5.2" fill="#e6383e"/>
<circle cx="770.8" cy="1140.6" r="5.2" fill="#e6383e"/>
<circle cx="812.2" cy="1203.1" r="5.2" fill="#e6383e"/>
<circle cx="853.6" cy="760.1" r="5.2" fill="#e6383e"/>
<circle cx="895" cy="1116.1" r="5.2" fill="#e6383e"/>
<circle cx="936.4" cy="1161.7" r="5.2" fill="#e6383e"/>
<circle cx="977.7" cy="1205.5" r="5.2" fill="#e6383e"/>
<polyline points="203.4,1185.6 232.9,1193.4 274.3,1187.7 315.7,1198.6 357,1186.1 398.4,1191.3 439.8,1184.2 481.2,1196.6 522.6,1197.1 563.9,1210.1 605.3,1195.2 646.7,1203 688.1,1205 729.5,1142.4 770.8,1123.1 812.2,1138.9 853.6,1123.8 895,1166.2 936.4,1166.2 977.7,1187.3" fill="none" stroke="#1d6ed8" stroke-width="1.6" stroke-linejoin="round"/>
<polygon points="232.9,1188.2 238.9,1198.7 226.9,1198.7" fill="#1d6ed8"/>
<polygon points="274.3,1182.5 280.3,1193 268.3,1193" fill="#1d6ed8"/>
<polygon points="315.7,1193.3 321.7,1203.8 309.7,1203.8" fill="#1d6ed8"/>
<polygon points="357,1180.8 363,1191.3 351,1191.3" fill="#1d6ed8"/>
<polygon points="398.4,1186 404.4,1196.5 392.4,1196.5" fill="#1d6ed8"/>
<polygon points="439.8,1179 445.8,1189.5 433.8,1189.5" fill="#1d6ed8"/>
<polygon points="481.2,1191.3 487.2,1201.8 475.2,1201.8" fill="#1d6ed8"/>
<polygon points="522.6,1191.8 528.6,1202.3 516.6,1202.3" fill="#1d6ed8"/>
<polygon points="563.9,1204.8 569.9,1215.3 557.9,1215.3" fill="#1d6ed8"/>
<polygon points="605.3,1190 611.3,1200.5 599.3,1200.5" fill="#1d6ed8"/>
<polygon points="646.7,1197.8 652.7,1208.2 640.7,1208.2" fill="#1d6ed8"/>
<polygon points="688.1,1199.8 694.1,1210.2 682.1,1210.2" fill="#1d6ed8"/>
<polygon points="729.5,1137.2 735.5,1147.7 723.5,1147.7" fill="#1d6ed8"/>
<polygon points="770.8,1117.8 776.8,1128.3 764.8,1128.3" fill="#1d6ed8"/>
<polygon points="812.2,1133.7 818.2,1144.2 806.2,1144.2" fill="#1d6ed8"/>
<polygon points="853.6,1118.5 859.6,1129 847.6,1129" fill="#1d6ed8"/>
<polygon points="895,1161 901,1171.5 889,1171.5" fill="#1d6ed8"/>
<polygon points="936.4,1161 942.4,1171.5 930.4,1171.5" fill="#1d6ed8"/>
<polygon points="977.7,1182 983.7,1192.5 971.7,1192.5" fill="#1d6ed8"/>
<polyline points="203.4,1215 232.9,1216.2 274.3,1214.3 315.7,1214.3 357,1212.2 398.4,1218.2 439.8,1211.2 481.2,1213.9 522.6,1213.3 563.9,1222.8 605.3,1218.8 646.7,1219.1 688.1,1219.1 729.5,1122.4 770.8,1096.1 812.2,1147.7 853.6,1166.2 895,1228.3 936.4,1237.1 977.7,1230.8" fill="none" stroke="#c8961a" stroke-width="1.6" stroke-linejoin="round"/>
<polygon points="227.4,1216.2 238.4,1210.2 238.4,1222.2" fill="#c8961a"/>
<polygon points="268.8,1214.3 279.8,1208.3 279.8,1220.3" fill="#c8961a"/>
<polygon points="310.2,1214.3 321.2,1208.3 321.2,1220.3" fill="#c8961a"/>
<polygon points="351.5,1212.2 362.5,1206.2 362.5,1218.2" fill="#c8961a"/>
<polygon points="392.9,1218.2 403.9,1212.2 403.9,1224.2" fill="#c8961a"/>
<polygon points="434.3,1211.2 445.3,1205.2 445.3,1217.2" fill="#c8961a"/>
<polygon points="475.7,1213.9 486.7,1207.9 486.7,1219.9" fill="#c8961a"/>
<polygon points="517.1,1213.3 528.1,1207.3 528.1,1219.3" fill="#c8961a"/>
<polygon points="558.4,1222.8 569.4,1216.8 569.4,1228.8" fill="#c8961a"/>
<polygon points="599.8,1218.8 610.8,1212.8 610.8,1224.8" fill="#c8961a"/>
<polygon points="641.2,1219.1 652.2,1213.1 652.2,1225.1" fill="#c8961a"/>
<polygon points="682.6,1219.1 693.6,1213.1 693.6,1225.1" fill="#c8961a"/>
<polygon points="724,1122.4 735,1116.4 735,1128.4" fill="#c8961a"/>
<polygon points="765.3,1096.1 776.3,1090.1 776.3,1102.1" fill="#c8961a"/>
<polygon points="806.7,1147.7 817.7,1141.7 817.7,1153.7" fill="#c8961a"/>
<polygon points="848.1,1166.2 859.1,1160.2 859.1,1172.2" fill="#c8961a"/>
<polygon points="889.5,1228.3 900.5,1222.3 900.5,1234.3" fill="#c8961a"/>
<polygon points="930.9,1237.1 941.9,1231.1 941.9,1243.1" fill="#c8961a"/>
<polygon points="972.2,1230.8 983.2,1224.8 983.2,1236.8" fill="#c8961a"/>
<polyline points="203.4,1226.6 232.9,1228.7 274.3,1230 315.7,1237 357,1229.9 398.4,1229.9 439.8,1233.8 481.2,1226.9 522.6,1226.9 563.9,1228.2 605.3,1226.9 646.7,1232 688.1,1206.2 729.5,781.2 770.8,671.9 812.2,846.1 853.6,1010.9 895,1182.7 936.4,1217.8 977.7,1220.3" fill="none" stroke="#20c4c8" stroke-width="1.5" stroke-linejoin="round"/>
<polygon points="238.2,1228.7 227.7,1223.2 227.7,1234.2" fill="#20c4c8"/>
<polygon points="279.5,1230 269,1224.5 269,1235.5" fill="#20c4c8"/>
<polygon points="320.9,1237 310.4,1231.5 310.4,1242.5" fill="#20c4c8"/>
<polygon points="362.3,1229.9 351.8,1224.4 351.8,1235.4" fill="#20c4c8"/>
<polygon points="403.7,1229.9 393.2,1224.4 393.2,1235.4" fill="#20c4c8"/>
<polygon points="445.1,1233.8 434.6,1228.3 434.6,1239.3" fill="#20c4c8"/>
<polygon points="486.4,1226.9 475.9,1221.4 475.9,1232.4" fill="#20c4c8"/>
<polygon points="527.8,1226.9 517.3,1221.4 517.3,1232.4" fill="#20c4c8"/>
<polygon points="569.2,1228.2 558.7,1222.7 558.7,1233.7" fill="#20c4c8"/>
<polygon points="610.6,1226.9 600.1,1221.4 600.1,1232.4" fill="#20c4c8"/>
<polygon points="652,1232 641.5,1226.5 641.5,1237.5" fill="#20c4c8"/>
<polygon points="693.3,1206.2 682.8,1200.7 682.8,1211.7" fill="#20c4c8"/>
<polygon points="734.7,781.2 724.2,775.7 724.2,786.7" fill="#20c4c8"/>
<polygon points="776.1,671.9 765.6,666.4 765.6,677.4" fill="#20c4c8"/>
<polygon points="817.5,846.1 807,840.6 807,851.6" fill="#20c4c8"/>
<polygon points="858.9,1010.9 848.4,1005.4 848.4,1016.4" fill="#20c4c8"/>
<polygon points="900.2,1182.7 889.7,1177.2 889.7,1188.2" fill="#20c4c8"/>
<polygon points="941.6,1217.8 931.1,1212.3 931.1,1223.3" fill="#20c4c8"/>
<polygon points="983,1220.3 972.5,1214.8 972.5,1225.8" fill="#20c4c8"/>
<polyline points="203.4,1230.8 232.9,1230.4 274.3,1237 315.7,1230.7 357,1235 398.4,1232.5 439.8,1230.5 481.2,1234.2 522.6,1231.7 563.9,1228.8 605.3,1235 646.7,1235 688.1,1113.3 729.5,1061.7 770.8,1077.5 812.2,1126.6 853.6,1218.5 895,1232.9 936.4,1231.8 977.7,1230" fill="none" stroke="#f6b890" stroke-width="1.5" stroke-linejoin="round"/>
<polygon points="232.9,1224.7 227.4,1228.6 229.5,1235.1 236.3,1235.1 238.4,1228.6" fill="#f7ad84"/>
<polygon points="274.3,1231.2 268.8,1235.2 270.9,1241.7 277.7,1241.7 279.7,1235.2" fill="#f7ad84"/>
<polygon points="315.7,1225 310.2,1228.9 312.3,1235.4 319,1235.4 321.1,1228.9" fill="#f7ad84"/>
<polygon points="357,1229.2 351.6,1233.2 353.7,1239.7 360.4,1239.7 362.5,1233.2" fill="#f7ad84"/>
<polygon points="398.4,1226.8 393,1230.7 395,1237.2 401.8,1237.2 403.9,1230.7" fill="#f7ad84"/>
<polygon points="439.8,1224.8 434.3,1228.7 436.4,1235.2 443.2,1235.2 445.3,1228.7" fill="#f7ad84"/>
<polygon points="481.2,1228.5 475.7,1232.4 477.8,1238.9 484.6,1238.9 486.6,1232.4" fill="#f7ad84"/>
<polygon points="522.6,1226 517.1,1229.9 519.2,1236.4 525.9,1236.4 528,1229.9" fill="#f7ad84"/>
<polygon points="563.9,1223 558.5,1227 560.6,1233.5 567.3,1233.5 569.4,1227" fill="#f7ad84"/>
<polygon points="605.3,1229.2 599.9,1233.2 601.9,1239.7 608.7,1239.7 610.8,1233.2" fill="#f7ad84"/>
<polygon points="646.7,1229.2 641.2,1233.2 643.3,1239.7 650.1,1239.7 652.2,1233.2" fill="#f7ad84"/>
<polygon points="688.1,1107.5 682.6,1111.5 684.7,1118 691.5,1118 693.5,1111.5" fill="#f7ad84"/>
<polygon points="729.5,1056 724,1059.9 726.1,1066.4 732.8,1066.4 734.9,1059.9" fill="#f7ad84"/>
<polygon points="770.8,1071.8 765.4,1075.7 767.5,1082.2 774.2,1082.2 776.3,1075.7" fill="#f7ad84"/>
<polygon points="812.2,1120.8 806.8,1124.8 808.8,1131.3 815.6,1131.3 817.7,1124.8" fill="#f7ad84"/>
<polygon points="853.6,1212.8 848.1,1216.7 850.2,1223.2 857,1223.2 859.1,1216.7" fill="#f7ad84"/>
<polygon points="895,1227.2 889.5,1231.1 891.6,1237.6 898.4,1237.6 900.4,1231.1" fill="#f7ad84"/>
<polygon points="936.4,1226 930.9,1230 933,1236.5 939.7,1236.5 941.8,1230" fill="#f7ad84"/>
<polygon points="977.7,1224.2 972.3,1228.2 974.4,1234.7 981.1,1234.7 983.2,1228.2" fill="#f7ad84"/>
</g>
<g font-family="Liberation Serif" font-weight="bold" font-size="30" text-anchor="middle" fill="#000">
<text x="203.4" y="1276">0</text>
<text x="300" y="1276">5</text>
<text x="396.6" y="1276">10</text>
<text x="493.1" y="1276">15</text>
<text x="589.7" y="1276">20</text>
<text x="686.3" y="1276">25</text>
<text x="782.9" y="1276">30</text>
<text x="879.4" y="1276">35</text>
<text x="976" y="1276">40</text>
</g>
<text x="649" y="721.2" font-family="Liberation Serif" font-weight="bold" font-size="42.5" fill="#20c4c8"><tspan>C</tspan><tspan font-size="28" dy="11.5">2</tspan><tspan dy="-11.5">H</tspan><tspan font-size="28" dy="11.5">6</tspan></text>
<text x="864" y="790.5" font-family="Liberation Serif" font-weight="bold" font-size="42.5" fill="#e6383e"><tspan>CH</tspan><tspan font-size="28" dy="11.5">4</tspan></text>
<text x="925.5" y="1014.4" font-family="Liberation Serif" font-weight="bold" font-size="42.5" fill="#4a4a4a"><tspan>H</tspan><tspan font-size="28" dy="11.5">2</tspan></text>
<text x="711.5" y="1044.2" font-family="Liberation Serif" font-weight="bold" font-size="42.5" fill="#f58c4a"><tspan>C</tspan><tspan font-size="28" dy="11.5">6</tspan><tspan dy="-11.5">H</tspan><tspan font-size="28" dy="11.5">6</tspan></text>
<text x="571.5" y="1144.5" font-family="Liberation Serif" font-weight="bold" font-size="42.5" fill="#c8961a"><tspan>C</tspan><tspan font-size="28" dy="11.5">2</tspan><tspan dy="-11.5">H</tspan><tspan font-size="28" dy="11.5">4</tspan></text>
<text x="232.5" y="1179.1" font-family="Liberation Serif" font-weight="bold" font-size="42.5" fill="#1d6ed8"><tspan>HF</tspan></text>
<line x1="922.4" y1="992.6" x2="873.5" y2="996.3" stroke="#444" stroke-width="1.1"/><polygon points="861.5,997.2 875.2,992.7 875.7,999.6" fill="#000"/>
<line x1="662.5" y1="1125.9" x2="742.9" y2="1106" stroke="#444" stroke-width="1.1"/><polygon points="754.5,1103.1 741.8,1109.9 740.1,1103.1" fill="#000"/>
</svg>
</body></html>
